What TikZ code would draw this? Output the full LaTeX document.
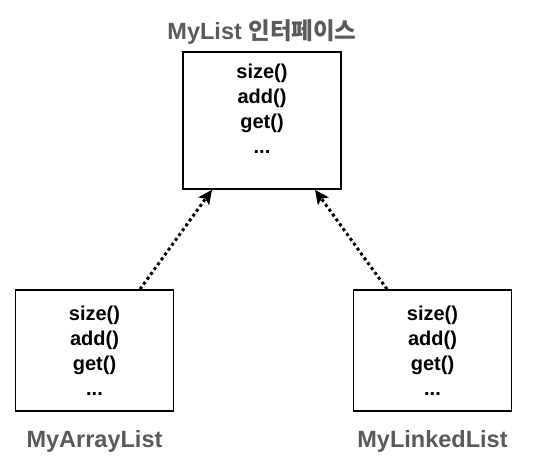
\documentclass[tikz,border=0pt]{standalone}
\usepackage{fontspec}
\setmainfont{Liberation Sans}
\newfontfamily\krfont{Noto Sans CJK KR}
\usetikzlibrary{arrows.meta,positioning}

\definecolor{labelgray}{HTML}{5A5A5A}

\tikzset{
  classbox/.style={draw=black, line width=1.6pt, minimum width=158pt,
    align=center, font=\fontsize{20}{25}\selectfont\bfseries},
  classname/.style={text=labelgray, font=\fontsize{23.5}{26}\selectfont\bfseries},
  implements/.style={line width=3pt, dash pattern=on 3pt off 3pt,
    -{Stealth[length=14pt,width=13pt,inset=3pt]}}
}

\begin{document}
\begin{tikzpicture}[x=1pt,y=-1pt]
  \useasboundingbox (0,0) rectangle (542,463);
  \node[classbox, minimum height=137pt] (mylist) at (262,120.5)
    {size()\\add()\\get()\\...\\[-1pt]\mbox{}};
  \node[classname, above=3pt of mylist] (mylistname) {MyList {\krfont\bfseries 인터페이스}};
  \node[classbox, minimum height=121pt] (arraylist) at (94.5,350.5)
    {size()\\add()\\get()\\...};
  \node[classbox, minimum height=121pt] (linkedlist) at (432.5,350.5)
    {size()\\add()\\get()\\...};
  \node[classname, below=15pt of arraylist] (arraylistname) {MyArrayList};
  \node[classname, below=15pt of linkedlist] (linkedlistname) {MyLinkedList};
  \draw[implements] ([xshift=45.5pt]arraylist.north) -- ([xshift=-50pt]mylist.south);
  \draw[implements] ([xshift=-45.5pt]linkedlist.north) -- ([xshift=53pt]mylist.south);
\end{tikzpicture}
\end{document}
